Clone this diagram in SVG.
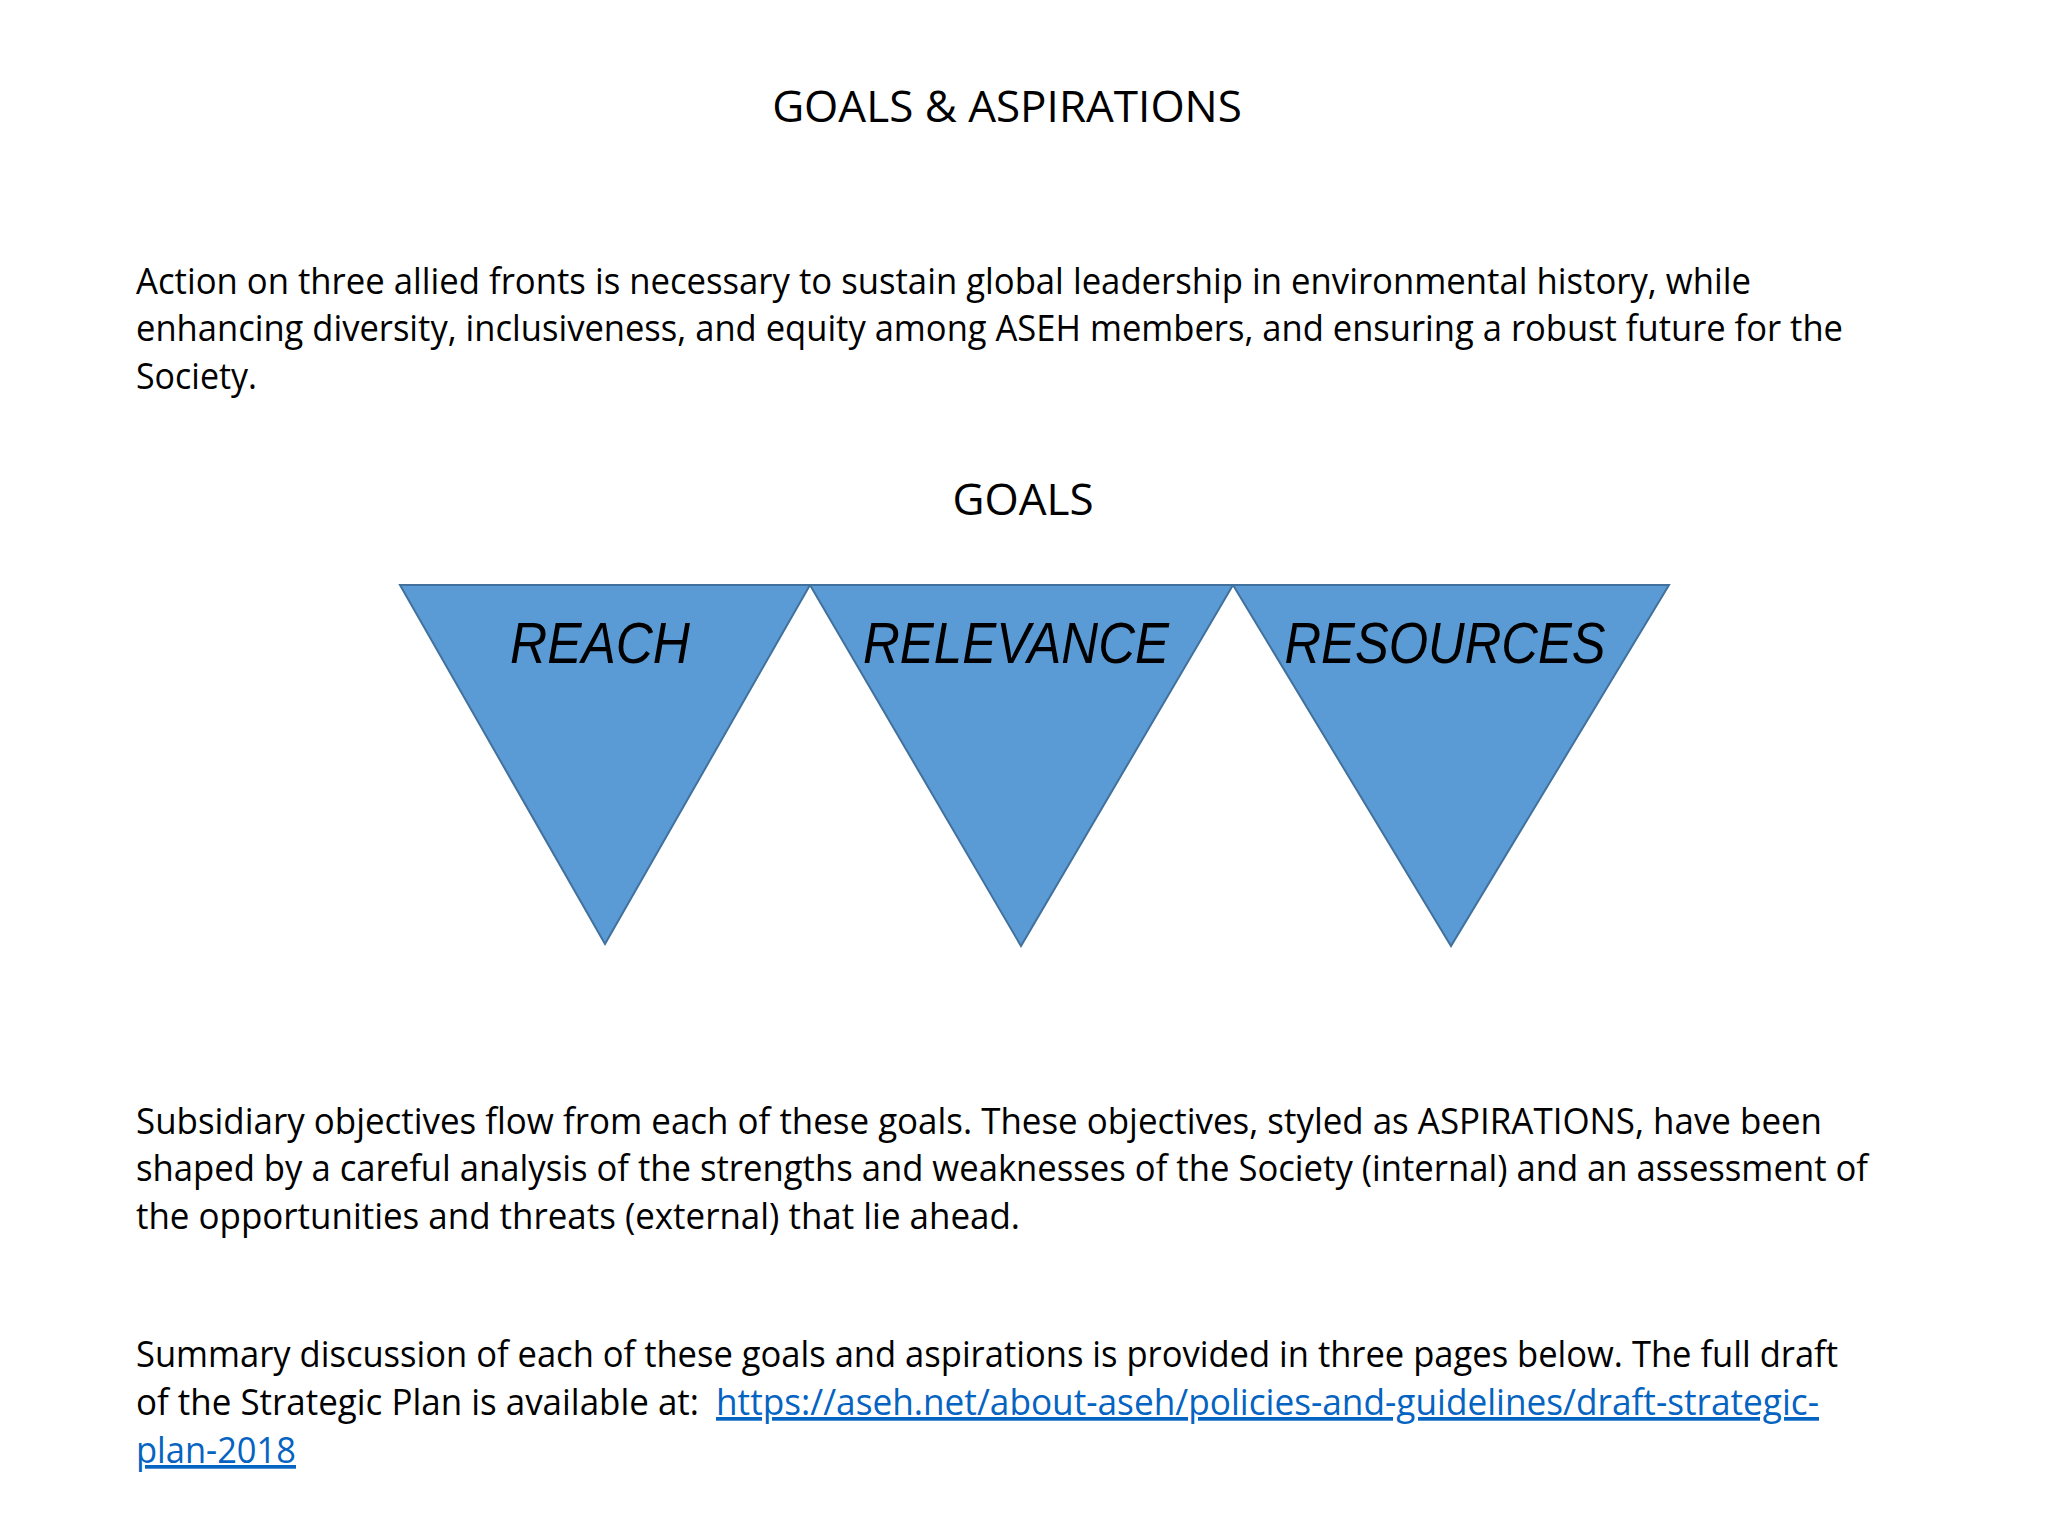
<svg xmlns="http://www.w3.org/2000/svg" width="2048" height="1536" viewBox="0 0 2048 1536">
<style>
.t{font-family:"Open Sans","Noto Sans",sans-serif;font-size:37px;fill:#000}
.h{font-family:"Open Sans","Noto Sans",sans-serif;font-size:44px;fill:#000;text-anchor:middle}
.tri{fill:#5b9bd5;stroke:#41719c;stroke-width:2}
.lab{font-family:"Liberation Sans",Arial,sans-serif;font-style:italic;font-size:58px;fill:#000;text-anchor:middle}
.lnk{fill:#0563c1;text-decoration:underline}
</style>
<rect width="2048" height="1536" fill="#fff"/>
<text class="h" x="1007" y="122">GOALS &amp; ASPIRATIONS</text>
<text class="t" x="136" y="294" textLength="1615" lengthAdjust="spacingAndGlyphs">Action on three allied fronts is necessary to sustain global leadership in environmental history, while</text>
<text class="t" x="136" y="341" textLength="1707" lengthAdjust="spacingAndGlyphs">enhancing diversity, inclusiveness, and equity among ASEH members, and ensuring a robust future for the</text>
<text class="t" x="136" y="389" textLength="121" lengthAdjust="spacingAndGlyphs">Society.</text>
<text class="h" x="1023" y="515">GOALS</text>
<g id="reach"><polygon class="tri" points="400,585 810,585 605,944"/><text class="lab" x="600" y="663" textLength="180" lengthAdjust="spacingAndGlyphs">REACH</text></g>
<g id="relevance"><polygon class="tri" points="810,585 1233,585 1021,946"/><text class="lab" x="1016" y="663" textLength="306" lengthAdjust="spacingAndGlyphs">RELEVANCE</text></g>
<g id="resources"><polygon class="tri" points="1233,585 1669,585 1451,946"/><text class="lab" x="1445" y="663" textLength="321" lengthAdjust="spacingAndGlyphs">RESOURCES</text></g>
<g id="connectors"/>
<text class="t" x="136" y="1134" textLength="1686" lengthAdjust="spacingAndGlyphs">Subsidiary objectives flow from each of these goals.  These objectives, styled as ASPIRATIONS, have been</text>
<text class="t" x="136" y="1181" textLength="1732" lengthAdjust="spacingAndGlyphs">shaped by a careful analysis of the strengths and weaknesses of the Society (internal) and an assessment of</text>
<text class="t" x="136" y="1229" textLength="884" lengthAdjust="spacingAndGlyphs">the opportunities and threats (external) that lie ahead.</text>
<text class="t" x="136" y="1367" textLength="1702" lengthAdjust="spacingAndGlyphs">Summary discussion of each of these goals and aspirations is provided in three pages below. The full draft</text>
<text class="t" x="136" y="1415" textLength="563" lengthAdjust="spacingAndGlyphs">of the Strategic Plan is available at:</text>
<text class="t lnk" x="716" y="1415" textLength="1103" lengthAdjust="spacingAndGlyphs">https://aseh.net/about-aseh/policies-and-guidelines/draft-strategic-</text>
<text class="t lnk" x="136" y="1463" textLength="160" lengthAdjust="spacingAndGlyphs">plan-2018</text>
</svg>
